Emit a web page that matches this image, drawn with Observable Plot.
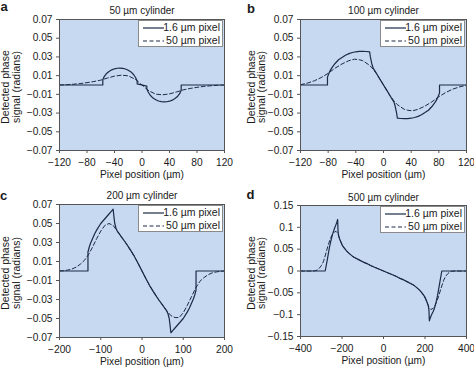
<!DOCTYPE html>
<html><head><meta charset="utf-8">
<script src="https://cdn.jsdelivr.net/npm/d3@7"></script>
<script src="https://cdn.jsdelivr.net/npm/@observablehq/plot@0.6"></script>
<style>
html,body{margin:0;padding:0;background:#fff;}
#wrap{position:relative;width:474px;height:368px;overflow:hidden;font-family:"Liberation Sans",Arial,sans-serif;color:#1a1a1a;}
.panel{position:absolute;}
.legend{position:absolute;box-sizing:border-box;background:#fff;border:1px solid #8a8a8a;width:85px;height:27px;}
.legend .row{position:absolute;left:0;right:0;height:13px;}
.legend svg{position:absolute;left:4px;top:0;}
.legend span{position:absolute;right:2px;top:0px;font-size:10.5px;line-height:13px;white-space:nowrap;color:#1a1a1a;}
</style></head><body><div id="wrap"></div>
<script>
// ---- Data ----
const titles = ["50 \u00b5m cylinder", "100 \u00b5m cylinder", "200 \u00b5m cylinder", "500 \u00b5m cylinder"];
const letters = ["a", "b", "c", "d"];
const seriesNames = ["1.6 \u00b5m pixel", "50 \u00b5m pixel"];
const xLabel = "Pixel position (\u00b5m)";
const yLabel = "Detected phase\nsignal (radians)";

const xTicksAB = [-120, -80, -40, 0, 40, 80, 120];
const xTicksC = [-200, -100, 0, 100, 200];
const xTicksD = [-400, -200, 0, 200, 400];
const yTicksABC = [0.07, 0.05, 0.03, 0.01, -0.01, -0.03, -0.05, -0.07];
const yTicksD = [0.15, 0.1, 0.05, 0, -0.05, -0.1, -0.15];

// Panel a (50 um cylinder)
const aSolidX = [-120,-57,-57,-55,-52,-48,-44,-40,-36,-32,-28,-24,-20,-16,-12,-9,-7,-7,7,7,9,12,16,20,24,28,32,36,40,44,48,52,55,57,57,120];
const aSolidY = [0,0,0.0055,0.009,0.012,0.0145,0.0162,0.0173,0.0179,0.018,0.0178,0.0171,0.0158,0.014,0.011,0.0075,0.004,0.0012,-0.0012,-0.004,-0.0075,-0.011,-0.014,-0.0158,-0.0171,-0.0178,-0.018,-0.0179,-0.0173,-0.0162,-0.0145,-0.012,-0.009,-0.0055,0,0];
const aDashX = [-120,-110,-100,-90,-80,-70,-60,-50,-40,-30,-20,-10,-5,0,5,10,20,30,40,50,60,70,80,90,100,110,120];
const aDashY = [0,0.0003,0.0008,0.0015,0.0025,0.0037,0.0052,0.0075,0.0095,0.0105,0.0098,0.0062,0.0032,0,-0.0032,-0.0062,-0.0098,-0.0105,-0.0095,-0.0075,-0.0052,-0.0037,-0.0025,-0.0015,-0.0008,-0.0003,0];

// Panel b (100 um cylinder)
const bSolidX = [-120,-81,-81,-78,-75,-70,-65,-60,-55,-50,-45,-40,-35,-30,-25,-20,-19,-17,-15,-12,-9,-6,-3,0,3,6,9,12,15,17,19,20,25,30,35,40,45,50,55,60,65,70,75,78,81,81,120];
const bSolidY = [0,0,0.0085,0.014,0.018,0.023,0.027,0.0295,0.0318,0.0335,0.0347,0.0355,0.036,0.036,0.0358,0.0354,0.03,0.023,0.018,0.0145,0.011,0.0072,0.0036,0,-0.0036,-0.0072,-0.011,-0.0145,-0.018,-0.023,-0.03,-0.0354,-0.0358,-0.036,-0.036,-0.0355,-0.0347,-0.0335,-0.0318,-0.0295,-0.027,-0.023,-0.018,-0.014,-0.0085,0,0];
const bDashX = [-120,-110,-100,-90,-80,-70,-60,-50,-42,-35,-30,-20,-15,-10,-5,0,5,10,15,20,30,35,42,50,60,70,80,90,100,110,120];
const bDashY = [0.0003,0.002,0.0045,0.008,0.0125,0.018,0.0225,0.026,0.0276,0.027,0.026,0.021,0.017,0.012,0.006,0,-0.006,-0.012,-0.017,-0.021,-0.026,-0.027,-0.0276,-0.026,-0.0225,-0.018,-0.0125,-0.008,-0.0045,-0.002,-0.0003];

// Panel c (200 um cylinder)
const cSolidX = [-200,-131,-131,-128,-125,-120,-115,-110,-100,-90,-80,-75,-70,-68,-66,-63,-60,-55,-50,-40,-30,-20,-10,0,10,20,30,40,50,55,60,63,66,68,70,75,80,90,100,110,115,120,125,128,131,131,200];
const cSolidY = [0,0,0.02,0.025,0.029,0.034,0.039,0.043,0.050,0.055,0.060,0.0625,0.065,0.057,0.050,0.045,0.042,0.039,0.036,0.030,0.0235,0.0165,0.0085,0,-0.0085,-0.0165,-0.0235,-0.030,-0.036,-0.039,-0.042,-0.045,-0.050,-0.057,-0.065,-0.0625,-0.060,-0.055,-0.050,-0.043,-0.039,-0.034,-0.029,-0.025,-0.02,0,0];
const cDashX = [-200,-190,-180,-170,-160,-150,-140,-130,-120,-110,-100,-90,-80,-70,-60,-50,-40,-30,-20,-10,0,10,20,30,40,50,60,70,80,90,100,110,120,130,140,150,160,170,180,190,200];
const cDashY = [0,0.0003,0.001,0.002,0.004,0.007,0.011,0.017,0.025,0.034,0.042,0.048,0.050,0.048,0.042,0.036,0.030,0.023,0.0165,0.0085,0,-0.0085,-0.0165,-0.023,-0.030,-0.036,-0.042,-0.047,-0.049,-0.049,-0.044,-0.036,-0.027,-0.018,-0.011,-0.007,-0.004,-0.002,-0.001,-0.0003,0];

// Panel d (500 um cylinder)
const dSolidX = [-400,-281,-275,-270,-265,-260,-255,-250,-245,-240,-235,-230,-225,-221,-219,-216,-212,-205,-200,-190,-180,-170,-160,-150,-140,-120,-100,-80,-60,-40,-20,0,
  20,40,60,80,100,120,140,150,160,170,180,190,200,205,212,216,219,221,225,230,235,240,245,250,255,260,265,270,275,281,400];
const dSolidY = [0,0,0.015,0.028,0.042,0.055,0.066,0.076,0.085,0.092,0.099,0.105,0.111,0.118,0.09,0.08,0.074,0.066,0.060,0.053,0.047,0.042,0.038,0.034,0.031,0.026,0.021,0.017,0.012,0.008,0.004,0,
  -0.004,-0.008,-0.012,-0.017,-0.021,-0.026,-0.031,-0.034,-0.038,-0.042,-0.047,-0.053,-0.060,-0.066,-0.074,-0.08,-0.09,-0.114,-0.108,-0.102,-0.097,-0.092,-0.086,-0.078,-0.068,-0.057,-0.044,-0.030,-0.016,0,0];
const dDashX = [-400,-340,-330,-320,-310,-300,-290,-284,-275,-265,-255,-245,-235,-228,-220,-212,-204,-195,-180,-170,-160,-150,-140,-120,-100,-80,-60,-40,-20,0,20,40,60,80,100,120,140,150,160,170,180,195,204,212,220,228,235,245,255,265,275,284,290,300,310,320,330,340,400];
const dDashY = [0,0,0.0005,0.002,0.006,0.012,0.021,0.030,0.045,0.062,0.075,0.085,0.090,0.0905,0.086,0.075,0.065,0.057,0.047,0.042,0.038,0.034,0.031,0.026,0.021,0.017,0.012,0.008,0.004,0,-0.004,-0.008,-0.012,-0.017,-0.021,-0.026,-0.031,-0.034,-0.038,-0.042,-0.047,-0.057,-0.065,-0.075,-0.084,-0.088,-0.087,-0.082,-0.072,-0.059,-0.043,-0.030,-0.021,-0.012,-0.006,-0.002,-0.0005,0,0];

// ---- Style / layout ----
const BG = "#c6d9f1";
const LINE = "#1b2a47";
const FRAME = "#555";
const FONT = "'Liberation Sans', Arial, sans-serif";

const panels = [
  {left: 0,   top: 0,   ml: 59, mr: 13, mt: 19, mb: 34, xd: [-120,120], xt: xTicksAB, yd: [-0.07,0.07], yt: yTicksABC, yf: d3.format(".2f"),
   sx: aSolidX, sy: aSolidY, dx: aDashX, dy: aDashY, letterDx: -55.5, letterDy: -12.5, titleDy: -9, yLabDx: -48.5},
  {left: 237, top: 0,   ml: 63, mr: 8,  mt: 19, mb: 34, xd: [-120,120], xt: xTicksAB, yd: [-0.07,0.07], yt: yTicksABC, yf: d3.format(".2f"),
   sx: bSolidX, sy: bSolidY, dx: bDashX, dy: bDashY, letterDx: -49.5, letterDy: -11, titleDy: -9, yLabDx: -44},
  {left: 0,   top: 184, ml: 59, mr: 13, mt: 20, mb: 31, xd: [-200,200], xt: xTicksC, yd: [-0.07,0.07], yt: yTicksABC, yf: d3.format(".2f"),
   sx: cSolidX, sy: cSolidY, dx: cDashX, dy: cDashY, letterDx: -56, letterDy: -9, titleDy: -8.5, yLabDx: -48.5},
  {left: 237, top: 184, ml: 63, mr: 8,  mt: 21, mb: 32, xd: [-400,400], xt: xTicksD, yd: [-0.15,0.15], yt: yTicksD, yf: d3.format(".2~f"),
   sx: dSolidX, sy: dSolidY, dx: dDashX, dy: dDashY, letterDx: -50, letterDy: -11, titleDy: -8, yLabDx: -44}
];

const wrap = document.getElementById("wrap");
const W = 237, H = 184;

panels.forEach((p, i) => {
  const solid = d3.zip(p.sx, p.sy).map(([x, y]) => ({x, y}));
  const dashed = d3.zip(p.dx, p.dy).map(([x, y]) => ({x, y}));
  const chart = Plot.plot({
    width: W, height: H,
    marginLeft: p.ml, marginRight: p.mr, marginTop: p.mt, marginBottom: p.mb,
    style: {fontFamily: FONT, fontSize: "10.2px", color: "#1a1a1a", background: "transparent", overflow: "visible"},
    x: {domain: p.xd},
    y: {domain: p.yd},
    marks: [
      Plot.frame({fill: BG}),
      Plot.line(dashed, {x: "x", y: "y", stroke: LINE, strokeWidth: 1, strokeDasharray: "4,2.5"}),
      Plot.line(solid, {x: "x", y: "y", stroke: LINE, strokeWidth: 1.2}),
      Plot.frame({stroke: FRAME, strokeWidth: 1}),
      Plot.axisX(p.xt, {tickSize: 3, tickPadding: 5, tickFormat: d3.format("d"), label: null, stroke: FRAME, fill: "#1a1a1a"}),
      Plot.axisY(p.yt, {tickSize: 3, tickPadding: 4, tickFormat: p.yf, label: null, stroke: FRAME, fill: "#1a1a1a"}),
      Plot.text([xLabel], {frameAnchor: "bottom", dy: 24.5, fontSize: 10.2, textAnchor: "middle", lineAnchor: "middle"}),
      Plot.text([yLabel], {frameAnchor: "left", dx: p.yLabDx, dy: 2, rotate: -90, fontSize: 10.5, lineHeight: 1.0, textAnchor: "middle", lineAnchor: "middle"}),
      Plot.text([titles[i]], {frameAnchor: "top", dy: p.titleDy, fontSize: 10, textAnchor: "middle", lineAnchor: "middle"}),
      Plot.text([letters[i]], {frameAnchor: "top-left", dx: p.letterDx, dy: p.letterDy, fontSize: 13, fontWeight: "bold", textAnchor: "middle", lineAnchor: "middle"})
    ]
  });
  const div = document.createElement("div");
  div.className = "panel";
  div.style.left = p.left + "px";
  div.style.top = p.top + "px";
  div.appendChild(chart);
  wrap.appendChild(div);

  // Legend (top-right corner inside the frame)
  const frameRight = p.left + W - p.mr;
  const frameTop = p.top + p.mt;
  const leg = document.createElement("div");
  leg.className = "legend";
  leg.style.left = (frameRight - 1 - 85) + "px";
  leg.style.top = (frameTop + 1) + "px";
  seriesNames.forEach((name, j) => {
    const row = document.createElement("div");
    row.className = "row";
    row.style.top = (j === 0 ? 0 : 13) + "px";
    row.innerHTML = `<svg width="22" height="13"><line x1="0" x2="21" y1="7" y2="7" stroke="${LINE}" stroke-width="${j === 0 ? 1.2 : 1}" ${j === 1 ? 'stroke-dasharray="4,2.5"' : ''}/></svg><span>${name}</span>`;
    leg.appendChild(row);
  });
  wrap.appendChild(leg);
});
</script></body></html>
